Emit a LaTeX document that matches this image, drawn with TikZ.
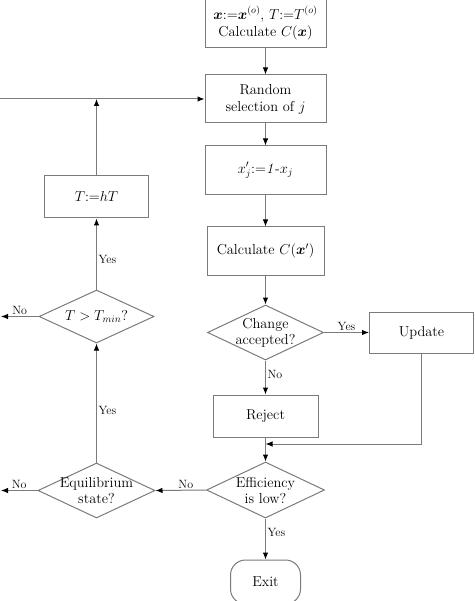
\documentclass[tikz,border=0pt]{standalone}
\usepackage{amsmath,amssymb}
\usepackage{tikz}
\usetikzlibrary{positioning,arrows.meta,shapes.geometric,calc}
\definecolor{linegrey}{HTML}{7B7B7B}
\tikzset{
  procbox/.style = {rectangle, draw=linegrey, line width=1pt, fill=white, align=center,
                    inner sep=2pt, font=\fontsize{14.4}{17}\selectfont},
  decide/.style  = {diamond, draw=linegrey, line width=1pt, fill=white, inner sep=0pt},
  dtext/.style   = {align=center, inner sep=0pt, font=\fontsize{14.4}{16}\selectfont},
  flow/.style    = {-{Latex[length=7pt, width=5.5pt, color=black]}, line width=1pt, draw=linegrey},
  tag/.style     = {font=\fontsize{12}{14}\selectfont, inner sep=1.5pt},
}

\begin{document}
\begin{tikzpicture}[x=1pt, y=-1pt]
  \useasboundingbox (0,0) rectangle (474,601);

  %% ---------------- main column ----------------
  \node[procbox, minimum width=121pt, minimum height=50pt] (init) at (265.5,23)
    {$\boldsymbol{x}{:=}\boldsymbol{x}^{(o)}$, $T{:=}T^{(o)}$\\Calculate $C(\boldsymbol{x})$};
  \node[procbox, minimum width=121pt, minimum height=48pt] (select) at (265.5,99)
    {Random\\selection of $j$};
  \node[procbox, minimum width=121pt, minimum height=49pt] (flip) at (265.5,170.5)
    {$x'_j{:=}\mathit{1}\text{-}x_j$};
  \node[procbox, minimum width=117pt, minimum height=48pt] (calc) at (265.5,251)
    {Calculate $C(\boldsymbol{x}')$};
  \node[decide, minimum width=116pt, minimum height=55pt,
        label={[dtext]center:Change\\accepted?}] (accept) at (265.5,332.5) {};
  \node[procbox, minimum width=104pt, minimum height=41pt] (update) at (421.5,332.5) {Update};
  \node[procbox, minimum width=105pt, minimum height=42pt] (reject) at (265.5,416) {Reject};
  \node[decide, minimum width=118pt, minimum height=56pt,
        label={[dtext]center:Efficiency\\is low?}] (effic) at (265.5,490) {};
  \node[procbox, rounded corners=15pt, minimum width=70pt, minimum height=44pt] (exit)
    at (265.5,582) {Exit};

  %% ---------------- left column ----------------
  \node[decide, minimum width=117pt, minimum height=55pt,
        label={[dtext]center:Equilibrium\\state?}] (equil) at (96.5,490.5) {};
  \node[decide, minimum width=115pt, minimum height=53pt,
        label={[dtext]center:$T > T_{min}$?}] (tmin) at (96.5,316.5) {};
  \node[procbox, minimum width=104pt, minimum height=42pt] (cool) at (96.5,197) {$T{:=}hT$};

  \coordinate (loopin) at (0,99);
  \coordinate (merge) at (265.5,444);
  \coordinate (out1) at (1,316.5);
  \coordinate (out2) at (1,490.5);

  %% ---------------- connectors ----------------
  \draw[flow] (init) -- (select);
  \draw[flow] (select) -- (flip);
  \draw[flow] (flip) -- (calc);
  \draw[flow] (calc) -- (accept.north);
  \draw[flow] (accept.east) -- node[tag, above] {Yes} (update);
  \draw[flow] (accept.south) -- node[tag, right, pos=0.4] {No} (reject);
  \draw[flow] (update.south) |- (merge);
  \draw[flow] (reject) -- (effic.north);
  \draw[flow] (effic.south) -- node[tag, right, pos=0.35] {Yes} (exit);
  \draw[flow] (effic.west) -- node[tag, above, pos=0.4] {No} (equil.east);
  \draw[flow] (equil.west) -- node[tag, above] {No} (out2);
  \draw[flow] (equil.north) -- node[tag, right, pos=0.44] {Yes} (tmin.south);
  \draw[flow] (tmin.west) -- node[tag, above] {No} (out1);
  \draw[flow] (tmin.north) -- node[tag, right, pos=0.42] {Yes} (cool);
  \draw[flow] (cool.north) -- (cool.north |- select.west);
  \draw[flow] (loopin) -- (select.west);
\end{tikzpicture}
\end{document}
